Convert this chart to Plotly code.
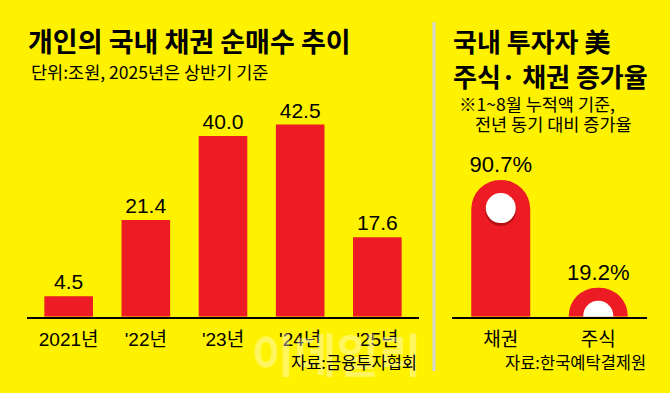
import plotly.graph_objects as go

# ---- data ----
years = ["2021년", "'22년", "'23년", "'24년", "'25년"]
net_buy = [4.5, 21.4, 40.0, 42.5, 17.6]          # 조원
net_buy_labels = ["4.5", "21.4", "40.0", "42.5", "17.6"]

assets = ["채권", "주식"]
growth = [90.7, 19.2]                            # %
growth_labels = ["90.7%", "19.2%"]

W, H = 670, 393
YELLOW = "#FFF200"
RED = "#ED1C24"
KR = "Noto Sans CJK KR"
NUM = "Liberation Sans, Noto Sans CJK KR"


def px(x):
    return x / W


def py(y):
    return 1 - y / H


fig = go.Figure()

# left bars
fig.add_trace(go.Bar(
    x=years, y=net_buy, text=net_buy_labels, textposition="outside",
    textfont=dict(family=NUM, size=21, color="black"),
    constraintext="none", cliponaxis=False,
    marker=dict(color=RED, line=dict(width=0)), width=0.63,
    xaxis="x", yaxis="y", hoverinfo="skip"))

# right rounded bars
fig.add_trace(go.Bar(
    x=assets, y=growth, text=growth_labels, textposition="outside",
    textfont=dict(family=NUM, size=22, color="black"),
    constraintext="none", cliponaxis=False,
    marker=dict(color=RED, line=dict(width=0), cornerradius="50%"), width=0.605,
    xaxis="x2", yaxis="y2", hoverinfo="skip"))

# white knobs (with soft shadow) inside the rounded caps
cap_offset = 18.6
fig.add_trace(go.Scatter(
    x=assets, y=[g - cap_offset - 1.6 for g in growth], mode="markers",
    marker=dict(size=31, color="rgba(100,0,0,0.40)", line=dict(width=0)),
    xaxis="x2", yaxis="y2", hoverinfo="skip", cliponaxis=True))
fig.add_trace(go.Scatter(
    x=assets, y=[g - cap_offset for g in growth], mode="markers",
    marker=dict(size=30, color="white", line=dict(width=0)),
    xaxis="x2", yaxis="y2", hoverinfo="skip", cliponaxis=True))

base_y = 316.7
top_y = 90.7
ydom = [py(base_y), py(top_y)]

fig.update_layout(
    width=W, height=H,
    margin=dict(l=0, r=0, t=0, b=0),
    paper_bgcolor=YELLOW, plot_bgcolor=YELLOW,
    showlegend=False, barmode="overlay",
    xaxis=dict(domain=[px(27), px(419)], range=[-0.54, 4.54], type="category",
               showline=True, linecolor="black", linewidth=1.5, showgrid=False,
               zeroline=False, ticks="", ticklabelstandoff=5,
               tickfont=dict(family=NUM, size=19, color="black"), fixedrange=True),
    yaxis=dict(domain=ydom, range=[0, 50], visible=False, fixedrange=True),
    xaxis2=dict(domain=[px(452), px(647)], range=[-0.5, 1.5], type="category",
                showline=True, linecolor="black", linewidth=1.5, showgrid=False,
                zeroline=False, ticks="", ticklabelstandoff=5,
                tickfont=dict(family=KR, size=19, color="black"), fixedrange=True),
    yaxis2=dict(domain=ydom, range=[0, 150], visible=False, fixedrange=True,
                anchor="x2"),
)

# divider
fig.add_shape(type="line", xref="paper", yref="paper",
              x0=px(434), x1=px(434), y0=py(22), y1=py(371),
              line=dict(color="#d4d4d4", width=3), layer="below")

anns = []
# watermark
anns.append(dict(text="<b>이데일리</b>", x=px(336), y=py(352), xanchor="center",
                 yanchor="middle", font=dict(family=KR, size=46,
                                             color="rgba(255,255,255,0.38)")))
anns += [
    dict(text="<b>개인의 국내 채권 순매수 추이</b>", x=px(26), y=py(41),
         xanchor="left", yanchor="middle", font=dict(family=KR, size=27, color="black")),
    dict(text="단위:조원, 2025년은 상반기 기준", x=px(29), y=py(72),
         xanchor="left", yanchor="middle", font=dict(family=KR, size=17.5, color="black")),
    dict(text="자료:금융투자협회", x=px(419), y=py(362),
         xanchor="right", yanchor="middle", font=dict(family=KR, size=16.5, color="black")),
    dict(text="<b>국내 투자자 美</b>", x=px(451), y=py(41),
         xanchor="left", yanchor="middle", font=dict(family=KR, size=26, color="black")),
    dict(text="<b>주식· 채권 증가율</b>", x=px(451), y=py(75),
         xanchor="left", yanchor="middle", font=dict(family=KR, size=26, color="black")),
    dict(text="※1~8월 누적액 기준,", x=px(457), y=py(104),
         xanchor="left", yanchor="middle", font=dict(family=KR, size=17.5, color="black")),
    dict(text="전년 동기 대비 증가율", x=px(473), y=py(124),
         xanchor="left", yanchor="middle", font=dict(family=KR, size=17.5, color="black")),
    dict(text="자료:한국예탁결제원", x=px(648), y=py(362),
         xanchor="right", yanchor="middle", font=dict(family=KR, size=16.5, color="black")),
]
for a in anns:
    a.update(xref="paper", yref="paper", showarrow=False)
fig.update_layout(annotations=anns)

fig.write_html("out.html", config={"displayModeBar": False},
               post_script="document.body.style.margin='0';document.body.style.overflow='hidden';")
